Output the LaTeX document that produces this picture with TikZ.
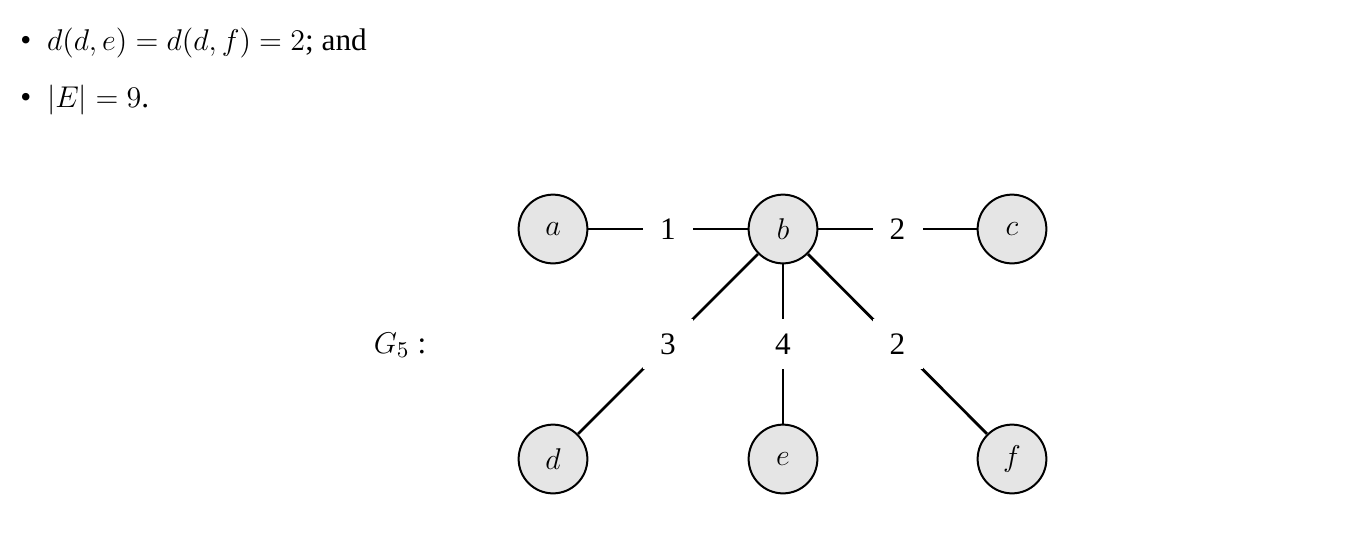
\documentclass[tikz,border=0pt]{standalone}
\usepackage{fontspec}
\setmainfont{Liberation Serif}
\begin{document}
\begin{tikzpicture}[x=0.4pt,y=-0.4pt,font=\fontsize{12.5}{15}\selectfont,
  vtx/.style={circle,draw,line width=0.8pt,fill=gray!20,minimum size=27.5pt,inner sep=0pt},
  wlab/.style={fill=white,inner sep=0pt,minimum size=20pt},
  edge/.style={line width=1.1pt}]
\useasboundingbox (0,0) rectangle (1348,534);
\node[anchor=west,inner sep=0pt] (t1) at (20,43) {\textbullet\hspace{0.5em}$d(d,e)=d(d,f)=2$; and};
\node[anchor=west,inner sep=0pt] (t2) at (20,100) {\textbullet\hspace{0.5em}$|E|=9$.};
\node (g) at (400,345) {$G_5$ :};
\node[vtx] (a) at (553,229) {$a$};
\node[vtx] (b) at (783,229) {$b$};
\node[vtx] (c) at (1012,229) {$c$};
\node[vtx] (d) at (553,459) {$d$};
\node[vtx] (e) at (783,459) {$e$};
\node[vtx] (f) at (1012,459) {$f$};
\draw[edge] (a) -- node[wlab]{1} (b);
\draw[edge] (b) -- node[wlab]{2} (c);
\draw[edge] (b) -- node[wlab]{3} (d);
\draw[edge] (b) -- node[wlab]{4} (e);
\draw[edge] (b) -- node[wlab]{2} (f);
\end{tikzpicture}
\end{document}
